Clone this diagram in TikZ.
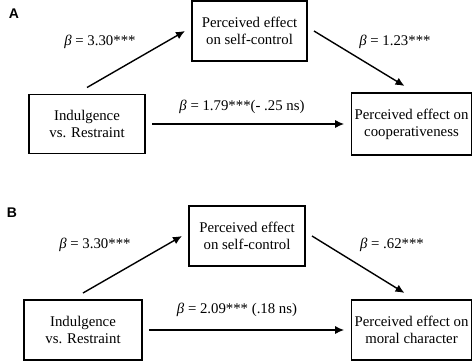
\documentclass[tikz,border=0pt]{standalone}
\usepackage{fontspec}
\setmainfont{Liberation Serif}
\setsansfont{Liberation Sans}
\usepackage{tikz}
\usetikzlibrary{arrows.meta}

\tikzset{
  varbox/.style={draw, line width=1.1pt, align=center, outer sep=7pt,
    font=\fontsize{14.8}{17}\selectfont},
  coef/.style={font=\fontsize{14.8}{17}\selectfont},
  arr/.style={line width=1.4pt, -{Latex[length=9pt,width=8pt]}},
  panel/.style={font=\sffamily\bfseries\fontsize{14}{14}\selectfont}
}

\begin{document}
\begin{tikzpicture}[x=1pt, y=-1pt]
        \useasboundingbox (0,0) rectangle (474,361);
        % panel A
        \node[panel] (labA) at (14,14) {A};
        \node[varbox, minimum width=115pt, minimum height=60pt] (medA) at (249.5,31) {Perceived effect\\on self-control};
        \node[varbox, minimum width=116pt, minimum height=59pt] (ivA) at (87,124) {Indulgence\\vs. Restraint};
        \node[varbox, minimum width=117pt, minimum height=62pt] (dvA) at (411.5,124) {Perceived effect on\\cooperativeness};
        \draw[arr] (ivA.north) -- (medA.west);
        \draw[arr] (medA.east) -- ([xshift=-7pt]dvA.north);
        \draw[arr] (ivA.east) -- (dvA.west);
        \node[coef] (aA) at (100,42) {\textit{β} = 3.30***};
        \node[coef] (bA) at (395,42) {\textit{β} = 1.23***};
        \node[coef] (cA) at (242,107) {\textit{β} = 1.79***(- .25 ns)};
        % panel B
        \node[panel] (labB) at (12,213) {B};
        \node[varbox, minimum width=116pt, minimum height=60pt] (medB) at (247,236) {Perceived effect\\on self-control};
        \node[varbox, minimum width=118pt, minimum height=60pt] (ivB) at (83,330) {Indulgence\\vs. Restraint};
        \node[varbox, minimum width=117pt, minimum height=60pt] (dvB) at (411.5,330) {Perceived effect on\\moral character};
        \draw[arr] (ivB.north) -- (medB.west);
        \draw[arr] (medB.east) -- ([xshift=-7pt]dvB.north);
        \draw[arr] (ivB.east) -- (dvB.west);
        \node[coef] (aB) at (95,245) {\textit{β} = 3.30***};
        \node[coef] (bB) at (392,245) {\textit{β} = .62***};
        \node[coef] (cB) at (237,310) {\textit{β} = 2.09*** (.18 ns)};
\end{tikzpicture}
\end{document}
